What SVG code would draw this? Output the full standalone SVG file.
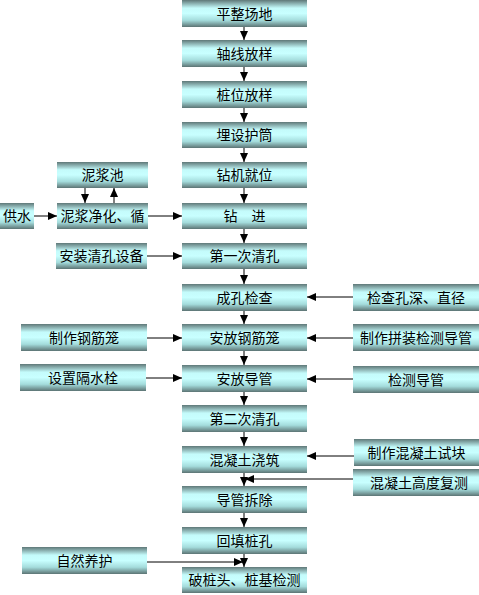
<svg xmlns="http://www.w3.org/2000/svg" width="479" height="595" viewBox="0 0 479 595">
<defs>
<linearGradient id="g" x1="0" y1="0" x2="0" y2="1">
<stop offset="0" stop-color="#5f7878"/>
<stop offset="0.3" stop-color="#c4fbfb"/>
<stop offset="0.5" stop-color="#c8ffff"/>
<stop offset="0.75" stop-color="#a4dcdc"/>
<stop offset="1" stop-color="#5c7474"/>
</linearGradient>
<marker id="ah" markerUnits="userSpaceOnUse" markerWidth="9" markerHeight="8" refX="9" refY="4" orient="auto">
<path d="M0,0 L9,4 L0,8 z" fill="#000"/>
</marker>
</defs>
<style>
.b{fill:url(#g);}
.t{font-family:"Noto Sans CJK SC","Liberation Sans",sans-serif;font-size:14px;fill:#000;text-anchor:middle;}
.c{stroke:#000;stroke-width:1;fill:none;marker-end:url(#ah);}
</style>
<rect width="479" height="595" fill="#fff"/>
<g id="n1"><rect class="b" x="182" y="0" width="125" height="27"/><text class="t" x="244.5" y="18.5">平整场地</text></g>
<g id="n2"><rect class="b" x="182" y="40" width="125" height="27"/><text class="t" x="244.5" y="58.5">轴线放样</text></g>
<g id="n3"><rect class="b" x="182" y="81" width="125" height="27"/><text class="t" x="244.5" y="99.5">桩位放样</text></g>
<g id="n4"><rect class="b" x="182" y="122" width="125" height="26"/><text class="t" x="244.5" y="140">埋设护筒</text></g>
<g id="n5"><rect class="b" x="182" y="162" width="125" height="26"/><text class="t" x="244.5" y="180">钻机就位</text></g>
<g id="n6"><rect class="b" x="182" y="203" width="125" height="26"/><text class="t" x="244.5" y="221">钻　进</text></g>
<g id="n7"><rect class="b" x="182" y="243" width="125" height="26"/><text class="t" x="244.5" y="261">第一次清孔</text></g>
<g id="n8"><rect class="b" x="182" y="284" width="125" height="27"/><text class="t" x="244.5" y="302.5">成孔检查</text></g>
<g id="n9"><rect class="b" x="182" y="324" width="125" height="27"/><text class="t" x="244.5" y="342.5">安放钢筋笼</text></g>
<g id="n10"><rect class="b" x="182" y="365" width="125" height="27"/><text class="t" x="244.5" y="383.5">安放导管</text></g>
<g id="n11"><rect class="b" x="182" y="405" width="125" height="27"/><text class="t" x="244.5" y="423.5">第二次清孔</text></g>
<g id="n12"><rect class="b" x="182" y="446" width="125" height="27"/><text class="t" x="244.5" y="464.5">混凝土浇筑</text></g>
<g id="n13"><rect class="b" x="182" y="486" width="125" height="27"/><text class="t" x="244.5" y="504.5">导管拆除</text></g>
<g id="n14"><rect class="b" x="182" y="527" width="125" height="27"/><text class="t" x="244.5" y="545.5">回填桩孔</text></g>
<g id="n15"><rect class="b" x="182" y="567" width="125" height="26"/><text class="t" x="244.5" y="585">破桩头、桩基检测</text></g>
<g id="s1"><rect class="b" x="57" y="162" width="91" height="26"/><text class="t" x="102.5" y="180">泥浆池</text></g>
<g id="s2"><rect class="b" x="57" y="203" width="91" height="26"/><text class="t" x="102.5" y="221">泥浆净化、循</text></g>
<g id="s3"><rect class="b" x="0" y="203" width="34" height="26"/><text class="t" x="17" y="221">供水</text></g>
<g id="s4"><rect class="b" x="56" y="243" width="91" height="26"/><text class="t" x="101.5" y="261">安装清孔设备</text></g>
<g id="s5"><rect class="b" x="21" y="324" width="126" height="27"/><text class="t" x="84" y="342.5">制作钢筋笼</text></g>
<g id="s6"><rect class="b" x="20" y="364" width="126" height="27"/><text class="t" x="83" y="382.5">设置隔水栓</text></g>
<g id="s7"><rect class="b" x="22" y="547" width="125" height="27"/><text class="t" x="84.5" y="565.5">自然养护</text></g>
<g id="s8"><rect class="b" x="353" y="284" width="126" height="27"/><text class="t" x="416" y="302.5">检查孔深、直径</text></g>
<g id="s9"><rect class="b" x="353" y="324" width="126" height="27"/><text class="t" x="416" y="342.5">制作拼装检测导管</text></g>
<g id="s10"><rect class="b" x="353" y="366" width="126" height="27"/><text class="t" x="416" y="384.5">检测导管</text></g>
<g id="s11"><rect class="b" x="354" y="439" width="125" height="27"/><text class="t" x="416.5" y="457.5">制作混凝土试块</text></g>
<g id="s12"><rect class="b" x="353" y="469" width="126" height="27"/><text class="t" x="419" y="487.5">混凝土高度复测</text></g>
<g id="connectors">
<path class="c" d="M244,27 V40"/>
<path class="c" d="M244,67 V81"/>
<path class="c" d="M244,108 V122"/>
<path class="c" d="M244,148 V162"/>
<path class="c" d="M244,188 V203"/>
<path class="c" d="M244,229 V243"/>
<path class="c" d="M244,269 V284"/>
<path class="c" d="M244,311 V324"/>
<path class="c" d="M244,351 V365"/>
<path class="c" d="M244,392 V405"/>
<path class="c" d="M244,432 V446"/>
<path class="c" d="M244,473 V486"/>
<path class="c" d="M244,513 V527"/>
<path class="c" d="M244,554 V567"/>
<path class="c" d="M85,188 V203"/>
<path class="c" d="M114,203 V188"/>
<path class="c" d="M34,216 H57"/>
<path class="c" d="M148,216 H182"/>
<path class="c" d="M147,256 H182"/>
<path class="c" d="M147,338 H182"/>
<path class="c" d="M146,378 H182"/>
<path class="c" d="M353,297 H307"/>
<path class="c" d="M353,338 H307"/>
<path class="c" d="M353,379 H307"/>
<path class="c" d="M354,456 H307"/>
<path class="c" d="M353,479 H245"/>
<path class="c" d="M147,562 H243"/>
</g>
</svg>
